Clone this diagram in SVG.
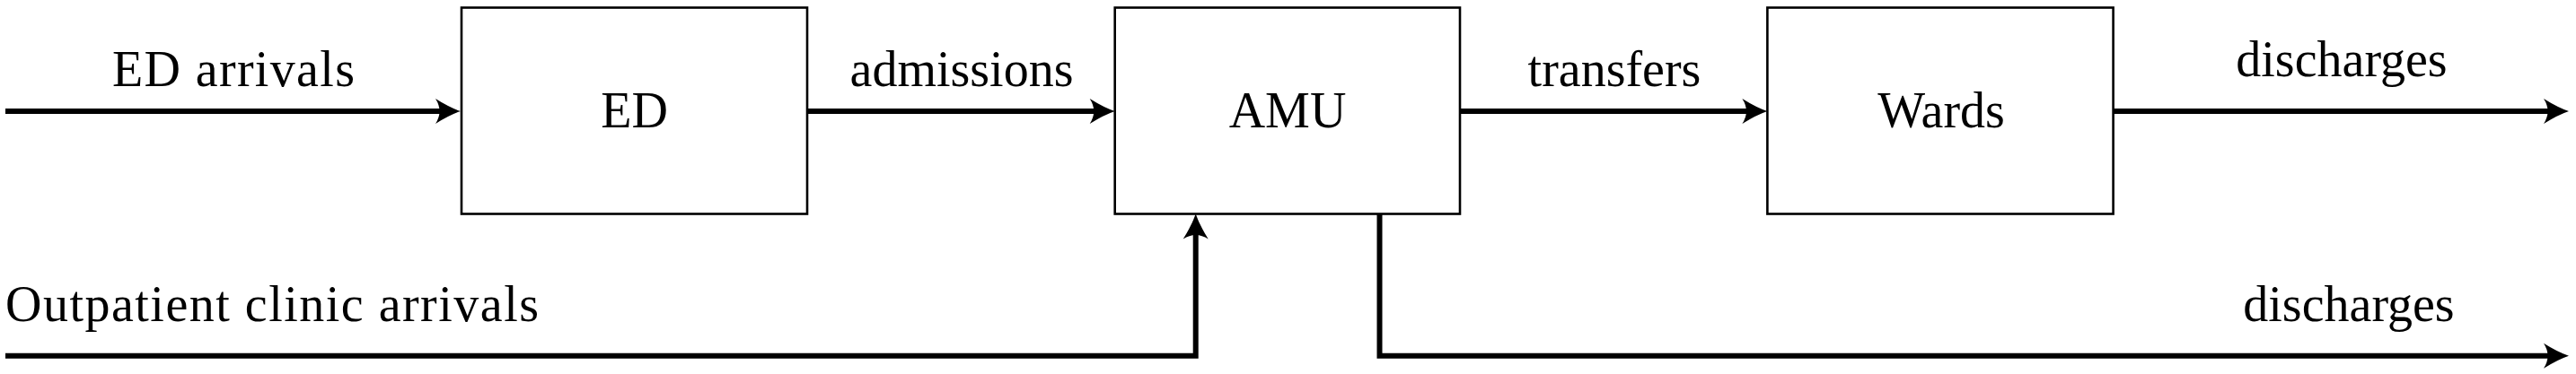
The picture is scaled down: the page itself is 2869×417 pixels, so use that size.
<svg xmlns="http://www.w3.org/2000/svg" width="2869" height="417" viewBox="0 0 2869 417">
<style>
text{font-family:'Liberation Serif','DejaVu Serif',serif;font-size:56px;fill:#000}
.box{fill:#fff;stroke:#000;stroke-width:2.6}
.c{fill:none;stroke:#000;stroke-width:6;stroke-linejoin:miter}
</style>
<defs>
<marker id="ah" markerUnits="userSpaceOnUse" viewBox="-32 -18 36 36" markerWidth="36" markerHeight="36" refX="-8" refY="0" orient="auto">
<path d="M0,0 Q-12,-4 -28,-14 Q-19,0 -28,14 Q-12,4 0,0 Z" fill="#000"/>
</marker>
</defs>
<rect width="2869" height="417" fill="#fff"/>
<g id="connectors">
<path class="c" d="M6,124 H505" marker-end="url(#ah)"/>
<path class="c" d="M899,124 H1233.7" marker-end="url(#ah)"/>
<path class="c" d="M1626,124 H1960.4" marker-end="url(#ah)"/>
<path class="c" d="M2353.6,124 H2853" marker-end="url(#ah)"/>
<path class="c" d="M6,396.7 H1331.7 V246.5" marker-end="url(#ah)"/>
<path class="c" d="M1536.5,238.5 V396.7 H2853" marker-end="url(#ah)"/>
<text x="260" y="96" text-anchor="middle" textLength="270">ED arrivals</text>
<text x="1071" y="96" text-anchor="middle">admissions</text>
<text x="1798" y="96" text-anchor="middle">transfers</text>
<text x="2608" y="85" text-anchor="middle">discharges</text>
<text x="6" y="358" textLength="594">Outpatient clinic arrivals</text>
<text x="2616" y="358" text-anchor="middle">discharges</text>
</g>
<g id="ED">
<rect class="box" x="514" y="8.5" width="385" height="230"/>
<text x="706.5" y="142" text-anchor="middle">ED</text>
</g>
<g id="AMU">
<rect class="box" x="1241.7" y="8.5" width="384.3" height="230"/>
<text x="1434" y="142" text-anchor="middle">AMU</text>
</g>
<g id="Wards">
<rect class="box" x="1968.4" y="8.5" width="385.2" height="230"/>
<text x="2162" y="142" text-anchor="middle">Wards</text>
</g>
</svg>
